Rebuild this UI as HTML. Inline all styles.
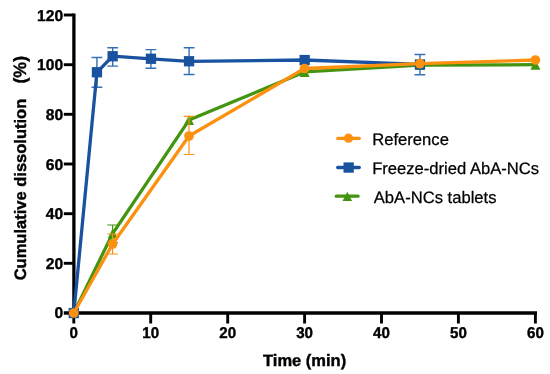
<!DOCTYPE html>
<html lang="en"><head><meta charset="utf-8"><title>Cumulative dissolution</title>
<style>html,body{margin:0;padding:0;background:#fff}svg{display:block}text{text-rendering:geometricPrecision}.b text{stroke:#000;stroke-width:.4px}.r text{stroke:#000;stroke-width:.25px}</style></head>
<body>
<svg width="550" height="374" viewBox="0 0 550 374">
<rect width="550" height="374" fill="#fff"/>
<g stroke="#000" stroke-width="2.9" fill="none" stroke-linecap="butt">
<path d="M73.9 13.6V314.6" stroke-width="3.3"/>
<path d="M63.8 313H537" stroke-width="3.3"/>
<path d="M63.8 263.3H73.8"/>
<path d="M63.8 213.7H73.8"/>
<path d="M63.8 164.0H73.8"/>
<path d="M63.8 114.3H73.8"/>
<path d="M63.8 64.7H73.8"/>
<path d="M63.8 15.0H73.8"/>
<path d="M73.8 313V323.5"/>
<path d="M150.7 313V323.5"/>
<path d="M227.7 313V323.5"/>
<path d="M304.6 313V323.5"/>
<path d="M381.5 313V323.5"/>
<path d="M458.4 313V323.5"/>
<path d="M535.4 313V323.5"/>
</g>
<g font-family="'Liberation Sans',Arial,sans-serif" font-weight="bold" font-size="15.6" fill="#000" class="b">
<text transform="translate(63.1 318.4) scale(1 1)" text-anchor="end">0</text>
<text transform="translate(63.1 268.8) scale(1 1)" text-anchor="end">20</text>
<text transform="translate(63.1 219.1) scale(1 1)" text-anchor="end">40</text>
<text transform="translate(63.1 169.5) scale(1 1)" text-anchor="end">60</text>
<text transform="translate(63.1 119.8) scale(1 1)" text-anchor="end">80</text>
<text transform="translate(63.1 70.1) scale(1 1)" text-anchor="end">100</text>
<text transform="translate(63.1 20.5) scale(1 1)" text-anchor="end">120</text>
<text transform="translate(73.8 338.4) scale(0.97 1)" text-anchor="middle">0</text>
<text transform="translate(150.7 338.4) scale(0.97 1)" text-anchor="middle">10</text>
<text transform="translate(227.7 338.4) scale(0.97 1)" text-anchor="middle">20</text>
<text transform="translate(304.6 338.4) scale(0.97 1)" text-anchor="middle">30</text>
<text transform="translate(381.5 338.4) scale(0.97 1)" text-anchor="middle">40</text>
<text transform="translate(458.4 338.4) scale(0.97 1)" text-anchor="middle">50</text>
<text transform="translate(535.4 338.4) scale(0.97 1)" text-anchor="middle">60</text>
<text x="304.6" y="366.4" text-anchor="middle" font-size="16.5">Time (min)</text>
<text transform="translate(26.3 280.3) rotate(-90)" font-size="16.5">Cumulative dissolution</text>
<text transform="translate(25.7 83.6) rotate(-90)" font-size="17.8">(%)</text>
</g>
<path d="M112.6 225.0V242.5M107.3 225.0H117.9M107.3 242.5H117.9" stroke="#43940f" stroke-width="1.2" fill="none"/>
<polyline fill="none" stroke="#43940f" stroke-width="3.3" stroke-linejoin="round" points="73.8,313.0 112.6,233.6 189.0,120.1 304.6,71.9 419.9,65.1 535.4,64.7"/>
<path d="M73.8 308.0L78.8 318.0H68.8Z" fill="#43940f"/><path d="M112.6 228.6L117.6 238.6H107.6Z" fill="#43940f"/><path d="M189.0 115.1L194.0 125.1H184.0Z" fill="#43940f"/><path d="M304.6 66.9L309.6 76.9H299.6Z" fill="#43940f"/><path d="M419.9 60.1L424.9 70.1H414.9Z" fill="#43940f"/><path d="M535.4 59.7L540.4 69.7H530.4Z" fill="#43940f"/>
<path d="M96.9 57.5V87.3M91.5 57.5H102.3M91.5 87.3H102.3" stroke="#3470b6" stroke-width="1.4" fill="none"/><path d="M112.7 47.8V66.1M107.3 47.8H118.1M107.3 66.1H118.1" stroke="#3470b6" stroke-width="1.4" fill="none"/><path d="M150.9 49.6V68.2M145.5 49.6H156.3M145.5 68.2H156.3" stroke="#3470b6" stroke-width="1.4" fill="none"/><path d="M189.1 47.8V74.5M183.7 47.8H194.5M183.7 74.5H194.5" stroke="#3470b6" stroke-width="1.4" fill="none"/><path d="M419.9 54.5V74.7M414.5 54.5H425.3M414.5 74.7H425.3" stroke="#3470b6" stroke-width="1.4" fill="none"/>
<polyline fill="none" stroke="#19539f" stroke-width="3.3" stroke-linejoin="round" points="73.8,313.0 96.9,72.3 112.7,56.2 150.9,58.8 189.1,61.3 304.6,60.0 419.9,64.4"/>
<rect x="68.6" y="307.9" width="10.3" height="10.3" fill="#19539f"/><rect x="91.8" y="67.1" width="10.3" height="10.3" fill="#19539f"/><rect x="107.5" y="51.1" width="10.3" height="10.3" fill="#19539f"/><rect x="145.8" y="53.6" width="10.3" height="10.3" fill="#19539f"/><rect x="183.9" y="56.1" width="10.3" height="10.3" fill="#19539f"/><rect x="299.5" y="54.9" width="10.3" height="10.3" fill="#19539f"/><rect x="414.8" y="59.3" width="10.3" height="10.3" fill="#19539f"/>
<path d="M112.6 234.0V254.0M107.3 234.0H117.9M107.3 254.0H117.9" stroke="#fc9110" stroke-width="1.2" fill="none"/><path d="M189.0 116.4V154.5M183.7 116.4H194.3M183.7 154.5H194.3" stroke="#fc9110" stroke-width="1.2" fill="none"/>
<polyline fill="none" stroke="#fc9110" stroke-width="3.3" stroke-linejoin="round" points="73.8,313.0 112.6,244.0 189.0,136.0 304.5,68.5 419.9,63.7 535.4,60.0"/>
<circle cx="73.8" cy="313.0" r="4.85" fill="#fc9110"/><circle cx="112.6" cy="244.0" r="4.85" fill="#fc9110"/><circle cx="189.0" cy="136.0" r="4.85" fill="#fc9110"/><circle cx="304.5" cy="68.5" r="4.85" fill="#fc9110"/><circle cx="419.9" cy="63.7" r="4.85" fill="#fc9110"/><circle cx="535.4" cy="60.0" r="4.85" fill="#fc9110"/>
<g font-family="'Liberation Sans',Arial,sans-serif" font-size="16.6" fill="#000" class="r">
<path d="M337.8 138.4H359.3" stroke="#fc9110" stroke-width="3.3" stroke-linecap="round"/><circle cx="348.5" cy="138.2" r="4.65" fill="#fc9110"/>
<text x="372.3" y="144.7">Reference</text>
<path d="M337.7 167.5H359.3" stroke="#19539f" stroke-width="3.3" stroke-linecap="round"/><rect x="343.5" y="162.4" width="10.3" height="10.3" fill="#19539f"/>
<text x="372.2" y="173.7">Freeze-dried AbA-NCs</text>
<path d="M336.3 196.2H358.0" stroke="#43940f" stroke-width="3.3" stroke-linecap="round"/><path d="M347.3 191.7L352.1 201.0H342.5Z" fill="#43940f"/>
<text x="373.8" y="202.7">AbA-NCs tablets</text>
</g>
</svg>
</body></html>
